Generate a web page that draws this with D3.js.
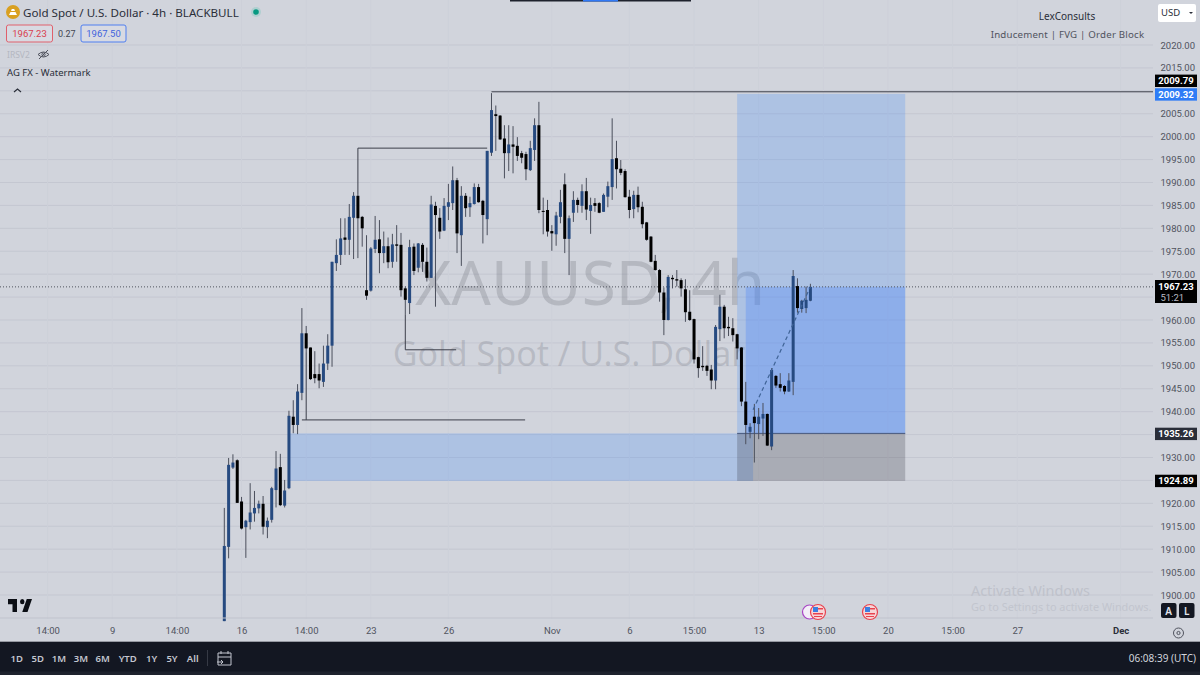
<!DOCTYPE html>
<html lang="en">
<head>
<meta charset="UTF-8">
<title>XAUUSD 4h</title>
<script src="https://d3js.org/d3.v7.min.js"></script>
<style>
    body { margin: 0; background: #d1d4dc; overflow: hidden; }
    svg { display: block; }
    text { font-family: "Noto Sans", "Open Sans", sans-serif; }
    .axis path, .axis line { display: none; }
    .axis text { fill: #50535e; font-size: 9.5px; font-family: Roboto, sans-serif; }
    .narrow { font-family: Roboto, sans-serif; }
</style>
</head>
<body>
<div id="chart"></div>
<script>
// candles
const opens = [
    1894.3,1910.5,1927.8,1929.4,1920.4,1914.8,1915.9,1917.8,1918.9,1919.9,
    1914.8,1916.4,1922.9,1927.9,1919.5,1923.3,1938.9,1937.1,1944.1,1957.1,
    1954.0,1948.2,1948.2,1946.5,1950.5,1954.4,1972.4,1974.2,1978.0,1977.5,
    1982.3,1987.1,1982.5,1966.5,1966.4,1975.5,1977.6,1974.6,1976.1,1972.7,
    1976.5,1976.4,1966.9,1963.7,1976.0,1971.4,1976.4,1972.7,1969.2,1984.9,
    1982.3,1979.5,1984.7,1985.5,1990.5,1978.5,1987.1,1984.6,1985.3,1989.0,
    1986.0,1982.0,1996.5,2004.9,2004.6,1999.6,1996.4,1998.3,1998.0,1996.4,
    1996.2,1992.7,1997.1,2002.5,1983.8,1984.0,1979.4,1978.7,1982.5,1989.6,
    1977.7,1983.4,1986.2,1984.9,1988.1,1983.8,1985.5,1985.5,1983.6,1986.9,
    1989.0,1995.3,1993.0,1992.5,1986.9,1984.2,1987.3,1984.7,1981.3,1978.2,
    1972.9,1970.9,1966.0,1960.0,1969.2,1968.9,1968.7,1966.7,1961.8,1960.2,
    1951.9,1950.0,1950.0,1949.2,1946.8,1958.0,1962.9,1958.5,1958.2,1956.9,
    1954.0,1942.2,1935.6,1938.9,1937.3,1938.5,1939.5,1932.4,1947.8,1946.0,
    1945.6,1944.4,1946.5,1967.4,1962.4,1962.6,1964.2];
const closes = [
    1910.7,1928.4,1928.9,1920.1,1914.5,1916.2,1918.0,1919.0,1919.9,1914.9,
    1916.2,1923.3,1927.6,1919.6,1922.8,1939.1,1937.1,1944.4,1957.1,1953.8,
    1947.1,1947.3,1946.8,1950.5,1954.4,1972.7,1974.2,1977.8,1977.5,1982.5,
    1987.1,1982.2,1980.0,1965.3,1975.6,1977.5,1974.6,1976.1,1972.6,1976.5,
    1976.2,1966.5,1964.4,1975.9,1970.7,1976.7,1972.7,1969.2,1985.2,1982.9,
    1979.3,1984.9,1985.7,1990.5,1978.9,1987.1,1984.4,1985.5,1989.0,1985.7,
    1982.9,1996.9,2005.8,2004.5,1999.4,1996.4,1998.3,1997.8,1995.8,1995.4,
    1992.9,1997.5,2002.5,1984.0,1983.6,1979.3,1978.9,1982.8,1985.7,1977.7,
    1982.2,1986.2,1985.1,1988.1,1984.1,1985.1,1984.9,1983.4,1987.3,1989.2,
    1995.1,1992.9,1992.1,1986.8,1984.0,1987.3,1984.6,1980.9,1977.5,1972.7,
    1970.9,1966.0,1960.0,1969.4,1968.9,1968.6,1966.9,1961.7,1960.0,1951.4,
    1949.5,1949.7,1948.9,1946.8,1958.5,1962.9,1958.2,1958.2,1956.7,1953.8,
    1942.2,1937.1,1936.7,1937.5,1938.9,1939.5,1932.6,1949.1,1945.7,1945.2,
    1944.4,1946.8,1969.6,1962.6,1964.2,1964.4,1967.23];
const highs = [
    1919.0,1929.9,1930.7,1929.6,1921.4,1916.4,1924.4,1922.7,1920.6,1921.6,
    1916.9,1923.6,1931.4,1930.8,1925.1,1940.2,1942.5,1946.0,1962.6,1958.7,
    1954.0,1953.2,1950.5,1954.4,1956.9,1972.7,1977.6,1982.2,1982.2,1985.3,
    1987.9,1987.5,1982.7,1978.5,1975.9,1982.7,1981.8,1979.3,1978.0,1978.8,
    1980.7,1979.0,1967.3,1977.5,1976.7,1976.8,1976.8,1975.8,1987.1,1985.8,
    1984.4,1986.6,1989.7,1993.5,1991.0,1989.2,1987.7,1986.9,1989.8,1989.7,
    1986.2,1996.9,2009.5,2006.8,2004.7,2002.5,2002.5,2002.3,1999.9,1996.9,
    1996.7,1999.1,2004.0,2007.6,1986.7,1986.2,1980.7,1983.6,1988.4,1992.0,
    1982.8,1988.1,1986.7,1989.6,1991.0,1986.7,1986.6,1985.7,1987.6,1990.2,
    2004.0,1999.1,1994.9,1992.9,1988.4,1988.2,1989.1,1985.8,1981.4,1978.3,
    1974.2,1971.1,1967.1,1969.8,1969.8,1970.9,1969.1,1968.9,1966.5,1960.3,
    1952.0,1954.3,1950.2,1950.2,1958.9,1965.5,1963.3,1960.7,1960.4,1957.0,
    1954.1,1946.5,1937.5,1941.7,1940.8,1941.9,1939.6,1949.5,1948.0,1948.4,
    1945.8,1948.4,1970.9,1969.1,1964.4,1967.3,1967.9];
const lows = [
    1894.3,1908.0,1927.5,1920.1,1914.3,1908.1,1914.3,1916.0,1917.8,1913.2,
    1912.4,1915.8,1919.1,1919.4,1919.1,1923.1,1935.3,1935.1,1942.5,1953.0,
    1946.9,1946.2,1945.1,1945.4,1949.1,1949.8,1970.7,1972.0,1974.2,1974.2,
    1973.3,1973.5,1976.0,1964.4,1966.2,1974.6,1970.2,1972.4,1971.3,1971.4,
    1972.7,1965.1,1961.1,1961.3,1969.8,1970.4,1970.5,1968.4,1969.2,1962.9,
    1977.7,1979.4,1981.8,1984.0,1974.6,1971.8,1982.5,1982.5,1985.2,1985.6,
    1976.7,1978.5,1995.8,1996.9,1999.3,1990.9,1992.5,1992.0,1994.7,1994.2,
    1990.5,1992.5,1994.7,1983.3,1978.7,1978.2,1975.1,1976.2,1981.1,1974.6,
    1969.8,1981.4,1983.4,1983.4,1981.8,1978.8,1983.6,1983.3,1983.6,1984.6,
    1986.2,1988.7,1991.6,1986.7,1982.2,1982.2,1983.5,1980.0,1977.3,1972.6,
    1970.8,1964.0,1956.7,1959.9,1966.9,1967.3,1965.1,1959.6,1959.8,1950.5,
    1947.4,1948.9,1947.8,1944.9,1944.9,1955.4,1956.0,1956.5,1955.3,1951.4,
    1941.2,1932.9,1934.2,1928.9,1934.0,1934.7,1932.5,1931.6,1945.2,1944.4,
    1943.8,1944.3,1943.6,1961.6,1961.6,1961.5,1964.1];

// axis ticks
const gridPrices = d3.range(1900, 2021, 5);
const shownPrices = gridPrices.filter(p => ![2010, 1965, 1935, 1925].includes(p));
const timeBars = [-41, -26, -11, 4, 19, 34, 52, 76, 94, 109, 124, 139, 154, 169, 184, 208];
const timeLabels = ["14:00", "9", "14:00", "16", "14:00", "23", "26", "Nov", "6", "15:00", "13", "15:00", "20", "15:00", "27", "Dec"];

// drawn levels: from bar, to bar, price
const levelFrom = [62, 31, 42, 18];
const levelTo = [215.5, 61, 53.8, 69.8];
const levelPrice = [2009.79, 1997.5, 1953.5, 1938.2];
// the vertical legs under the levels
const legBar = [31, 42, 19];
const legTop = [1997.5, 1961.1, 1953.0];
const legBottom = [1987.5, 1953.5, 1938.2];

const lastPrice = 1967.23, entry = 1935.26, stop = 1924.89, target = 2009.32;

const width = 1200, height = 675;
const plotRight = 1153, plotBottom = 619;

const x = d3.scaleLinear().domain([-52.05, 215.5]).range([0, plotRight]);
const y = d3.scaleLinear().domain([2020, 1900]).range([45, 595]);

const svg = d3.select("#chart").append("svg").attr("width", width).attr("height", height);

svg.append("rect").attr("width", width).attr("height", height).attr("fill", "#d1d4dc");

// grid
svg.append("g").selectAll("line").data(gridPrices).enter().append("line")
    .attr("x1", 0).attr("x2", plotRight)
    .attr("y1", d => y(d)).attr("y2", d => y(d))
    .attr("stroke", "#c4c7d1").attr("stroke-width", 1);
svg.append("g").selectAll("line").data(timeBars).enter().append("line")
    .attr("x1", d => x(d)).attr("x2", d => x(d))
    .attr("y1", 0).attr("y2", plotBottom)
    .attr("stroke", "#cdd0d9").attr("stroke-width", 1);

// watermark
svg.append("text").attr("x", 590).attr("y", 305).attr("text-anchor", "middle")
    .style("font-size", "62px").attr("fill", "#787b86").attr("fill-opacity", 0.32)
    .text("XAUUSD, 4h");
svg.append("text").attr("x", 569).attr("y", 366).attr("text-anchor", "middle")
    .style("font-size", "34px").attr("fill", "#787b86").attr("fill-opacity", 0.28)
    .text("Gold Spot / U.S. Dollar");

// zones
const zone = (b0, b1, p0, p1, fill) => svg.append("rect")
    .attr("x", x(b0)).attr("width", x(b1) - x(b0))
    .attr("y", y(p0)).attr("height", y(p1) - y(p0))
    .attr("fill", fill);
zone(15.2, 122.7, entry, stop, "rgba(69,140,248,.25)");
zone(119, 158, target, entry, "rgba(69,140,248,.25)");
zone(121, 158, lastPrice, entry, "rgba(46,114,255,.25)");
zone(119, 158, entry, stop, "rgba(53,53,65,.25)");
svg.append("line").attr("x1", x(119)).attr("x2", x(158))
    .attr("y1", y(entry)).attr("y2", y(entry))
    .attr("stroke", "#47597e").attr("stroke-width", 1);

// last price line
svg.append("line").attr("x1", 0).attr("x2", plotRight)
    .attr("y1", y(lastPrice)).attr("y2", y(lastPrice))
    .attr("stroke", "#50535e").attr("stroke-width", 1).attr("stroke-dasharray", "1,2");

// candles
const bars = opens.map((o, i) => ({ i, o, c: closes[i], h: highs[i], l: lows[i] }));
svg.append("g").selectAll("line").data(bars).enter().append("line")
    .attr("x1", d => x(d.i)).attr("x2", d => x(d.i))
    .attr("y1", d => y(d.h)).attr("y2", d => y(d.l))
    .attr("stroke", "#4b4f5c").attr("stroke-width", 1);
svg.append("g").selectAll("rect").data(bars).enter().append("rect")
    .attr("x", d => x(d.i) - 1.5).attr("width", 3)
    .attr("y", d => y(Math.max(d.o, d.c)))
    .attr("height", d => Math.max(1, Math.abs(y(d.o) - y(d.c))))
    .attr("fill", d => d.c >= d.o ? "#264a80" : "#000");

// levels
svg.append("g").selectAll("line").data(levelPrice).enter().append("line")
    .attr("x1", (d, i) => x(levelFrom[i])).attr("x2", (d, i) => x(levelTo[i]))
    .attr("y1", d => y(d)).attr("y2", d => y(d))
    .attr("stroke", "#3c3f4a").attr("stroke-width", 1);
svg.append("g").selectAll("line").data(legBar).enter().append("line")
    .attr("x1", d => x(d)).attr("x2", d => x(d))
    .attr("y1", (d, i) => y(legTop[i])).attr("y2", (d, i) => y(legBottom[i]))
    .attr("stroke", "#3c3f4a").attr("stroke-width", 1);
svg.append("line").attr("x1", x(122.7)).attr("y1", y(1940.4))
    .attr("x2", x(136)).attr("y2", y(lastPrice))
    .attr("stroke", "#3f6396").attr("stroke-width", 1.2).attr("stroke-dasharray", "4,3");

// axes
svg.append("g").attr("class", "axis")
    .attr("transform", `translate(${plotRight},0)`)
    .call(d3.axisRight(y).tickValues(shownPrices).tickSize(0).tickPadding(7.5).tickFormat(d3.format(".2f")));
svg.append("g").attr("class", "axis")
    .attr("transform", `translate(0,${plotBottom})`)
    .call(d3.axisBottom(x).tickValues(timeBars).tickSize(0).tickPadding(8)
        .tickFormat((d, i) => timeLabels[i]));
svg.selectAll(".axis text").filter(function () { return this.textContent === "Dec"; })
    .style("font-weight", 700).style("fill", "#2a2e39");
svg.append("line").attr("x1", 0).attr("x2", plotRight).attr("y1", plotBottom - 1).attr("y2", plotBottom - 1)
    .attr("stroke", "#c0c3cd");

// price tags
const tagPrices = [2009.79, 2009.32, 1935.26, 1924.89];
const tagShift = [-11, 0.5, 0.5, 0];
const tagFills = ["#000", "#2e7cf6", "#2a2e39", "#000"];
tagPrices.forEach((p, i) => {
    const cy = y(p) + tagShift[i];
    svg.append("rect").attr("x", 1155).attr("y", cy - 6.2).attr("width", 42).attr("height", 12.4).attr("fill", tagFills[i]);
    svg.append("text").attr("class", "narrow").attr("x", 1176).attr("y", cy + 3.4).attr("text-anchor", "middle")
        .style("font-size", "9.5px").style("font-weight", 700).attr("fill", "#fff").text(p.toFixed(2));
});
svg.append("rect").attr("x", 1155).attr("y", 280).attr("width", 42).attr("height", 23).attr("fill", "#000");
svg.append("text").attr("class", "narrow").attr("x", 1176).attr("y", 289.5).attr("text-anchor", "middle")
    .style("font-size", "9.5px").style("font-weight", 700).attr("fill", "#fff").text(lastPrice.toFixed(2));
svg.append("text").attr("class", "narrow").attr("x", 1160.5).attr("y", 301).style("font-size", "9.5px").attr("fill", "#b8bbc4").text("51:21");

// legend top left
svg.append("circle").attr("cx", 13).attr("cy", 12).attr("r", 7).attr("fill", "#d9a021");
svg.append("path").attr("d", "M9 15h8l-1.5-3h-5zM11 11h4l-.8-2h-2.4z").attr("fill", "#fff");
svg.append("text").attr("x", 23).attr("y", 17).style("font-size", "11.6px").attr("fill", "#2a2e39")
    .text("Gold Spot / U.S. Dollar · 4h · BLACKBULL");
svg.append("circle").attr("cx", 256).attr("cy", 12).attr("r", 5).attr("fill", "#2dbf9f").attr("fill-opacity", 0.2);
svg.append("circle").attr("cx", 256).attr("cy", 12).attr("r", 2.8).attr("fill", "#089981");
svg.append("rect").attr("x", 6.5).attr("y", 25).attr("width", 46).attr("height", 17).attr("rx", 2)
    .attr("fill", "#d8dae2").attr("stroke", "#e0606c");
svg.append("text").attr("class", "narrow").attr("x", 29.5).attr("y", 37).attr("text-anchor", "middle").style("font-size", "9.5px").attr("fill", "#d8404f").text("1967.23");
svg.append("text").attr("class", "narrow").attr("x", 58).attr("y", 37).style("font-size", "9px").attr("fill", "#434651").text("0.27");
svg.append("rect").attr("x", 81).attr("y", 25).attr("width", 45).attr("height", 17).attr("rx", 2)
    .attr("fill", "#d8dae2").attr("stroke", "#4f7ff0");
svg.append("text").attr("class", "narrow").attr("x", 103.5).attr("y", 37).attr("text-anchor", "middle").style("font-size", "9.5px").attr("fill", "#3f63dd").text("1967.50");
svg.append("text").attr("x", 7).attr("y", 58).style("font-size", "8.5px").attr("fill", "#b4b7c1").text("IRSV2");
svg.append("path").attr("d", "M38 54.5q5.5-5 11 0q-5.5 5-11 0zM39 59l9-9").attr("fill", "none").attr("stroke", "#50535e").attr("stroke-width", 1);
svg.append("circle").attr("cx", 43.5).attr("cy", 54.5).attr("r", 1.6).attr("fill", "none").attr("stroke", "#50535e");
svg.append("text").attr("x", 7).attr("y", 76).style("font-size", "9.5px").attr("fill", "#2a2e39").text("AG FX - Watermark");
svg.append("path").attr("d", "M14 92l3.5-3 3.5 3").attr("fill", "none").attr("stroke", "#2a2e39").attr("stroke-width", 1.2);

// top right
svg.append("text").attr("x", 1067).attr("y", 20).attr("text-anchor", "middle").style("font-size", "10px").attr("fill", "#2a2e39").text("LexConsults");
svg.append("text").attr("x", 1067.5).attr("y", 38).attr("text-anchor", "middle").style("font-size", "9.7px").style("letter-spacing", "0.2px").attr("fill", "#50535e").text("Inducement | FVG | Order Block");
svg.append("rect").attr("x", 1158).attr("y", 4).attr("width", 38).attr("height", 18).attr("rx", 2).attr("fill", "#fff");
svg.append("text").attr("x", 1161).attr("y", 16).style("font-size", "9.5px").attr("fill", "#2a2e39").text("USD");
svg.append("path").attr("d", "M1189 12l2 2 2-2z").attr("fill", "#2a2e39");

// strip at the top edge of the screenshot
svg.append("rect").attr("x", 510).attr("y", 0).attr("width", 181).attr("height", 1.5).attr("fill", "#1e222d");
svg.append("rect").attr("x", 583).attr("y", 0).attr("width", 35).attr("height", 1.5).attr("fill", "#3179f5");

// logo
svg.append("path").attr("transform", "translate(6.5,593.8) scale(.75,.87)")
    .attr("d", "M14 6H2v6h6v9h6V6zm14 15h-7l6-15h7l-6 15zm-7-9a3 3 0 1 0 0-6 3 3 0 0 0 0 6z")
    .attr("fill", "#0b0e14");

// activate windows
svg.append("text").attr("x", 971).attr("y", 596).style("font-size", "14.4px").attr("fill", "#bfc2cb").text("Activate Windows");
svg.append("text").attr("x", 971).attr("y", 611).style("font-size", "10.9px").attr("fill", "#c2c5ce").text("Go to Settings to activate Windows.");

// event icons
svg.append("circle").attr("cx", 809.5).attr("cy", 612).attr("r", 7).attr("fill", "#f4eef8").attr("stroke", "#a845c4").attr("stroke-width", 1.2);
[818, 870].forEach(cx => {
    svg.append("circle").attr("cx", cx).attr("cy", 612).attr("r", 7.5).attr("fill", "#f6d6d8").attr("stroke", "#e8434f").attr("stroke-width", 1.2);
    svg.append("rect").attr("x", cx - 5).attr("y", 607).attr("width", 5).attr("height", 5).attr("fill", "#3c7fe0");
    svg.append("rect").attr("x", cx).attr("y", 608).attr("width", 5).attr("height", 1.5).attr("fill", "#e8434f");
    svg.append("rect").attr("x", cx - 5).attr("y", 613).attr("width", 10).attr("height", 1.5).attr("fill", "#e8434f");
    svg.append("rect").attr("x", cx - 4).attr("y", 616).attr("width", 8).attr("height", 1).attr("fill", "#e8434f");
});

// A / L buttons and gear
[["A", 1161], ["L", 1179]].forEach(([t, bx]) => {
    svg.append("rect").attr("x", bx).attr("y", 603).attr("width", 15.5).attr("height", 15).attr("rx", 2).attr("fill", "#131722");
    svg.append("text").attr("x", bx + 7.7).attr("y", 614.5).attr("text-anchor", "middle").style("font-size", "10px").style("font-weight", 600).attr("fill", "#e0e3eb").text(t);
});
svg.append("circle").attr("cx", 1178.5).attr("cy", 633).attr("r", 5).attr("fill", "none").attr("stroke", "#50535e");
svg.append("circle").attr("cx", 1178.5).attr("cy", 633).attr("r", 1.6).attr("fill", "none").attr("stroke", "#50535e");

// bottom bar
svg.append("rect").attr("x", 0).attr("y", 642).attr("width", width).attr("height", 33).attr("fill", "#131722");
svg.append("rect").attr("x", 0).attr("y", 671.5).attr("width", width).attr("height", 3.5).attr("fill", "#1e222d");
svg.append("line").attr("x1", 0).attr("x2", width).attr("y1", 641.5).attr("y2", 641.5).attr("stroke", "#9598a1");
const rangeNames = ["1D", "5D", "1M", "3M", "6M", "YTD", "1Y", "5Y", "All"];
const rangeLeft = [16.7, 37.7, 59, 81, 102.7, 127.7, 151.7, 172, 192.7];
svg.append("g").selectAll("text").data(rangeNames).enter().append("text")
    .attr("x", (d, i) => rangeLeft[i]).attr("y", 662).attr("text-anchor", "middle")
    .style("font-size", "9.5px").style("font-weight", 600).attr("fill", "#c3c6cf").text(d => d);
svg.append("line").attr("x1", 207.5).attr("x2", 207.5).attr("y1", 650).attr("y2", 666).attr("stroke", "#363a45");
svg.append("path").attr("d", "M218 653h13v12h-13zM218 657h13M221 651v3M228 651v3M217 662h6l-2-2m2 2l-2 2")
    .attr("fill", "none").attr("stroke", "#c3c6cf");
svg.append("text").attr("x", 1196).attr("y", 662).attr("text-anchor", "end").style("font-size", "10px").attr("fill", "#d1d4dc").text("06:08:39 (UTC)");
</script>
</body>
</html>
